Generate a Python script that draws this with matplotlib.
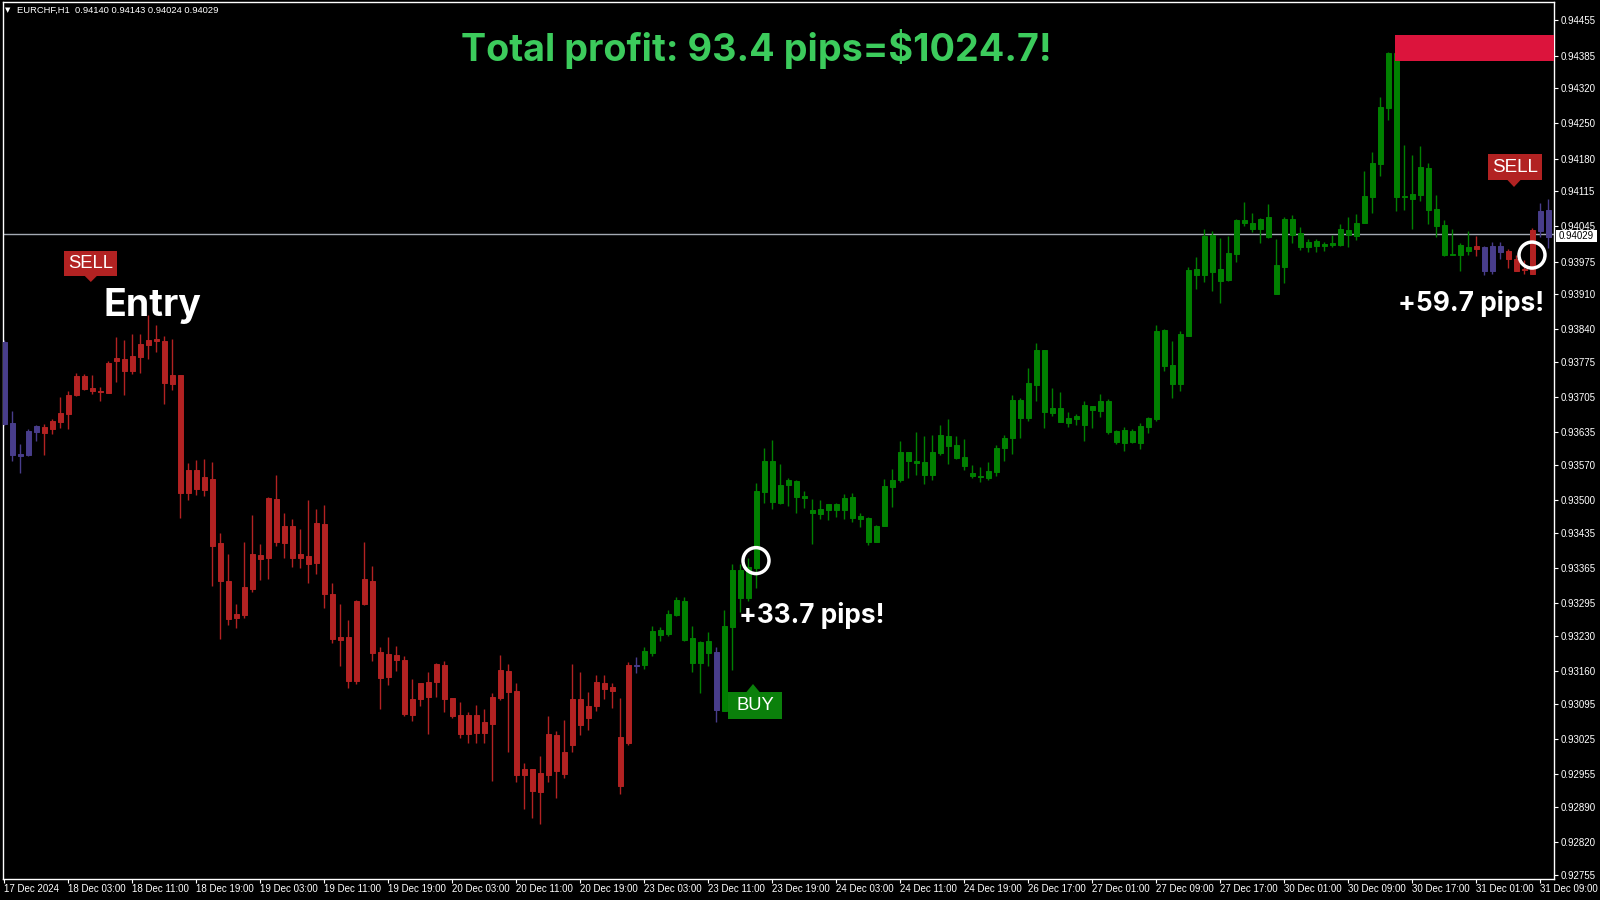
import matplotlib
matplotlib.use("Agg")
import matplotlib.pyplot as plt
from matplotlib.patches import Rectangle, Polygon

W, H, DPI = 1600, 900, 100

# ---------------- data (EURCHF H1 candles) ----------------
high = [
    0.93819, 0.93678, 0.93612, 0.93642, 0.93650, 0.93652, 0.93662, 0.93706, 0.93718, 0.93753,
    0.93751, 0.93749, 0.93726, 0.93777, 0.93825, 0.93819, 0.93831, 0.93831, 0.93869, 0.93849,
    0.93827, 0.93821, 0.93749, 0.93574, 0.93580, 0.93582, 0.93576, 0.93435, 0.93393, 0.93294,
    0.93417, 0.93471, 0.93413, 0.93507, 0.93550, 0.93475, 0.93463, 0.93443, 0.93501, 0.93483,
    0.93491, 0.93335, 0.93294, 0.93262, 0.93302, 0.93417, 0.93369, 0.93208, 0.93228, 0.93210,
    0.93190, 0.93144, 0.93136, 0.93158, 0.93176, 0.93180, 0.93107, 0.93099, 0.93079, 0.93093,
    0.93085, 0.93117, 0.93192, 0.93174, 0.93136, 0.92977, 0.92965, 0.92991, 0.93071, 0.93041,
    0.93063, 0.93174, 0.93158, 0.93119, 0.93152, 0.93152, 0.93136, 0.93107, 0.93178, 0.93188,
    0.93208, 0.93250, 0.93248, 0.93282, 0.93308, 0.93308, 0.93250, 0.93220, 0.93238, 0.93208,
    0.93282, 0.93373, 0.93373, 0.93385, 0.93534, 0.93604, 0.93620, 0.93572, 0.93544, 0.93540,
    0.93518, 0.93503, 0.93501, 0.93493, 0.93495, 0.93513, 0.93515, 0.93475, 0.93467, 0.93451,
    0.93542, 0.93562, 0.93618, 0.93596, 0.93636, 0.93628, 0.93630, 0.93650, 0.93662, 0.93628,
    0.93622, 0.93570, 0.93566, 0.93576, 0.93610, 0.93630, 0.93710, 0.93704, 0.93763, 0.93813,
    0.93799, 0.93724, 0.93716, 0.93676, 0.93672, 0.93698, 0.93688, 0.93712, 0.93702, 0.93640,
    0.93646, 0.93642, 0.93654, 0.93666, 0.93849, 0.93841, 0.93817, 0.93837, 0.93964, 0.93984,
    0.94040, 0.94036, 0.94022, 0.94026, 0.94060, 0.94094, 0.94072, 0.94062, 0.94090, 0.94020,
    0.94064, 0.94068, 0.94044, 0.94020, 0.94020, 0.94014, 0.94028, 0.94050, 0.94064, 0.94070,
    0.94155, 0.94193, 0.94303, 0.94392, 0.94392, 0.94207, 0.94187, 0.94205, 0.94171, 0.94108,
    0.94058, 0.94040, 0.94012, 0.94036, 0.94026, 0.94006, 0.94014, 0.94014, 0.94000, 0.93988,
    0.93978, 0.94042, 0.94092, 0.94100,
]
body_top = [
    0.93816, 0.93654, 0.93592, 0.93638, 0.93648, 0.93646, 0.93658, 0.93674, 0.93710, 0.93747,
    0.93747, 0.93724, 0.93718, 0.93773, 0.93783, 0.93781, 0.93787, 0.93811, 0.93819, 0.93821,
    0.93817, 0.93749, 0.93749, 0.93560, 0.93560, 0.93546, 0.93542, 0.93415, 0.93339, 0.93274,
    0.93328, 0.93393, 0.93391, 0.93505, 0.93503, 0.93449, 0.93449, 0.93393, 0.93389, 0.93455,
    0.93453, 0.93314, 0.93228, 0.93228, 0.93300, 0.93343, 0.93339, 0.93198, 0.93194, 0.93192,
    0.93182, 0.93105, 0.93136, 0.93138, 0.93174, 0.93172, 0.93107, 0.93073, 0.93073, 0.93073,
    0.93059, 0.93109, 0.93162, 0.93160, 0.93121, 0.92965, 0.92965, 0.92957, 0.93035, 0.93033,
    0.92999, 0.93105, 0.93105, 0.93091, 0.93138, 0.93136, 0.93128, 0.93029, 0.93172, 0.93172,
    0.93200, 0.93240, 0.93242, 0.93274, 0.93302, 0.93300, 0.93226, 0.93218, 0.93220, 0.93198,
    0.93250, 0.93361, 0.93361, 0.93367, 0.93518, 0.93578, 0.93578, 0.93530, 0.93540, 0.93538,
    0.93509, 0.93481, 0.93483, 0.93493, 0.93493, 0.93505, 0.93507, 0.93469, 0.93465, 0.93449,
    0.93528, 0.93540, 0.93596, 0.93596, 0.93578, 0.93576, 0.93596, 0.93630, 0.93628, 0.93610,
    0.93586, 0.93554, 0.93548, 0.93558, 0.93604, 0.93624, 0.93700, 0.93700, 0.93733, 0.93799,
    0.93799, 0.93684, 0.93684, 0.93664, 0.93668, 0.93690, 0.93688, 0.93698, 0.93698, 0.93638,
    0.93640, 0.93638, 0.93648, 0.93664, 0.93837, 0.93839, 0.93769, 0.93831, 0.93958, 0.93960,
    0.94026, 0.94028, 0.93960, 0.93992, 0.94058, 0.94058, 0.94052, 0.94060, 0.94064, 0.93968,
    0.94060, 0.94060, 0.94032, 0.94014, 0.94016, 0.94010, 0.94012, 0.94040, 0.94038, 0.94052,
    0.94106, 0.94171, 0.94283, 0.94390, 0.94390, 0.94106, 0.94110, 0.94163, 0.94161, 0.94080,
    0.94048, 0.93990, 0.94008, 0.94004, 0.94006, 0.94004, 0.94006, 0.94006, 0.93996, 0.93980,
    0.93960, 0.94038, 0.94076, 0.94078,
]
body_bot = [
    0.93652, 0.93590, 0.93589, 0.93590, 0.93636, 0.93634, 0.93642, 0.93656, 0.93672, 0.93710,
    0.93722, 0.93718, 0.93716, 0.93714, 0.93777, 0.93757, 0.93757, 0.93785, 0.93809, 0.93817,
    0.93733, 0.93731, 0.93515, 0.93515, 0.93523, 0.93521, 0.93409, 0.93339, 0.93264, 0.93266,
    0.93272, 0.93324, 0.93383, 0.93385, 0.93417, 0.93415, 0.93385, 0.93385, 0.93373, 0.93375,
    0.93314, 0.93224, 0.93222, 0.93140, 0.93140, 0.93294, 0.93196, 0.93146, 0.93148, 0.93182,
    0.93075, 0.93073, 0.93105, 0.93109, 0.93138, 0.93105, 0.93071, 0.93035, 0.93035, 0.93037,
    0.93037, 0.93055, 0.93107, 0.93119, 0.92953, 0.92953, 0.92921, 0.92920, 0.92953, 0.92961,
    0.92955, 0.93013, 0.93053, 0.93067, 0.93091, 0.93125, 0.93121, 0.92931, 0.93017, 0.93170,
    0.93172, 0.93196, 0.93232, 0.93234, 0.93272, 0.93222, 0.93176, 0.93176, 0.93196, 0.93083,
    0.93081, 0.93248, 0.93306, 0.93306, 0.93365, 0.93517, 0.93497, 0.93495, 0.93530, 0.93507,
    0.93505, 0.93475, 0.93473, 0.93481, 0.93481, 0.93481, 0.93465, 0.93463, 0.93417, 0.93417,
    0.93449, 0.93526, 0.93540, 0.93578, 0.93574, 0.93550, 0.93550, 0.93594, 0.93608, 0.93584,
    0.93568, 0.93548, 0.93546, 0.93544, 0.93556, 0.93604, 0.93624, 0.93664, 0.93664, 0.93729,
    0.93676, 0.93674, 0.93656, 0.93654, 0.93662, 0.93650, 0.93680, 0.93678, 0.93636, 0.93616,
    0.93614, 0.93616, 0.93614, 0.93646, 0.93662, 0.93767, 0.93731, 0.93731, 0.93827, 0.93948,
    0.93948, 0.93954, 0.93936, 0.93938, 0.93990, 0.94052, 0.94040, 0.94040, 0.94024, 0.93910,
    0.93964, 0.94028, 0.94004, 0.94004, 0.94006, 0.94006, 0.94008, 0.94008, 0.94028, 0.94026,
    0.94052, 0.94104, 0.94169, 0.94281, 0.94104, 0.94104, 0.94100, 0.94108, 0.94078, 0.94046,
    0.93988, 0.93988, 0.93988, 0.93996, 0.94000, 0.93956, 0.93956, 0.93994, 0.93980, 0.93956,
    0.93958, 0.93950, 0.94036, 0.94024,
]
low = [
    0.93650, 0.93579, 0.93555, 0.93588, 0.93619, 0.93590, 0.93632, 0.93644, 0.93642, 0.93708,
    0.93720, 0.93712, 0.93698, 0.93714, 0.93735, 0.93710, 0.93751, 0.93753, 0.93781, 0.93795,
    0.93692, 0.93720, 0.93465, 0.93501, 0.93511, 0.93509, 0.93330, 0.93224, 0.93252, 0.93246,
    0.93266, 0.93318, 0.93341, 0.93343, 0.93409, 0.93385, 0.93367, 0.93365, 0.93335, 0.93353,
    0.93286, 0.93216, 0.93170, 0.93126, 0.93134, 0.93292, 0.93180, 0.93085, 0.93132, 0.93160,
    0.93071, 0.93061, 0.93091, 0.93035, 0.93109, 0.93079, 0.93067, 0.93027, 0.93017, 0.93017,
    0.93017, 0.92941, 0.93103, 0.92999, 0.92939, 0.92886, 0.92868, 0.92856, 0.92939, 0.92908,
    0.92947, 0.92999, 0.93033, 0.93043, 0.93081, 0.93105, 0.93087, 0.92915, 0.93013, 0.93156,
    0.93164, 0.93190, 0.93220, 0.93230, 0.93270, 0.93220, 0.93158, 0.93117, 0.93170, 0.93059,
    0.93081, 0.93162, 0.93278, 0.93300, 0.93325, 0.93495, 0.93483, 0.93493, 0.93489, 0.93475,
    0.93485, 0.93413, 0.93463, 0.93461, 0.93467, 0.93463, 0.93457, 0.93447, 0.93411, 0.93417,
    0.93449, 0.93487, 0.93536, 0.93544, 0.93550, 0.93532, 0.93540, 0.93590, 0.93572, 0.93582,
    0.93560, 0.93544, 0.93536, 0.93540, 0.93548, 0.93578, 0.93592, 0.93624, 0.93658, 0.93698,
    0.93644, 0.93668, 0.93656, 0.93646, 0.93650, 0.93618, 0.93644, 0.93666, 0.93632, 0.93612,
    0.93598, 0.93614, 0.93602, 0.93634, 0.93658, 0.93757, 0.93704, 0.93718, 0.93827, 0.93920,
    0.93934, 0.93916, 0.93893, 0.93936, 0.93974, 0.94046, 0.94034, 0.94012, 0.94022, 0.93910,
    0.93932, 0.94012, 0.93998, 0.93994, 0.93994, 0.93996, 0.94004, 0.94006, 0.94004, 0.94018,
    0.94052, 0.94072, 0.94145, 0.94257, 0.94076, 0.94078, 0.94040, 0.94096, 0.94050, 0.94024,
    0.93986, 0.93988, 0.93956, 0.93988, 0.93986, 0.93948, 0.93950, 0.93980, 0.93962, 0.93956,
    0.93950, 0.93950, 0.94024, 0.94002,
]
# indicator state per candle: R = sell trend, G = buy trend, B = neutral
state = ("BBBBBRRRRR" "RRRRRRRRRR" "RRRRRRRRRR" "RRRRRRRRRR" "RRRRRRRRRR"
         "RRRRRRRRRR" "RRRRRRRRRR" "RRRRRRRRRB" "GGGGGGGGGB" "GGGGGGGGGG"
         "GGGGGGGGGG" "GGGGGGGGGG" "GGGGGGGGGG" "GGGGGGGGGG" "GGGGGGGGGG"
         "GGGGGGGGGG" "GGGGGGGGGG" "GGGGGGGGGG" "GGGGRBBBRR" "RRBB")

x_labels = ["17 Dec 2024", "18 Dec 03:00", "18 Dec 11:00", "18 Dec 19:00", "19 Dec 03:00",
            "19 Dec 11:00", "19 Dec 19:00", "20 Dec 03:00", "20 Dec 11:00", "20 Dec 19:00",
            "23 Dec 03:00", "23 Dec 11:00", "23 Dec 19:00", "24 Dec 03:00", "24 Dec 11:00",
            "24 Dec 19:00", "26 Dec 17:00", "27 Dec 01:00", "27 Dec 09:00", "27 Dec 17:00",
            "30 Dec 01:00", "30 Dec 09:00", "30 Dec 17:00", "31 Dec 01:00", "31 Dec 09:00"]
x_label_step = 8   # one label every 8 hourly candles
y_ticks = [0.94455, 0.94385, 0.94320, 0.94250, 0.94180, 0.94115, 0.94045, 0.93975, 0.93910,
           0.93840, 0.93775, 0.93705, 0.93635, 0.93570, 0.93500, 0.93435, 0.93365, 0.93295,
           0.93230, 0.93160, 0.93095, 0.93025, 0.92955, 0.92890, 0.92820, 0.92755]
current_price = 0.94029
header_text = "EURCHF,H1  0.94140 0.94143 0.94024 0.94029"
title_text = "Total profit: 93.4 pips=$1024.7!"
sl_zone = (174, 0.94374, 0.94426)          # start candle, low, high
exit_points = [(94, 0.93380), (191, 0.93988)]
profit_labels = ["+33.7 pips!", "+59.7 pips!"]

COL = {"R": "#B22222", "G": "#008000", "B": "#483D8B"}

# ---------------- figure ----------------
plt.rcParams["font.family"] = ["DejaVu Sans"]
fig = plt.figure(figsize=(W / DPI, H / DPI), dpi=DPI, facecolor="black")
L, R, T, B = 3, 1554, 2, 879
ax = fig.add_axes([L / W, (H - B) / H, (R - L) / W, (B - T) / H])
ax.set_facecolor("black")

n = len(high)
idx = list(range(n))
colors = [COL[s] for s in state]
ax.set_xlim(-0.125, -0.125 + (R - L) / 8.0)
ax.set_ylim(0.927464, 0.944916)

# current price line (behind candles)
ax.axhline(current_price, color="#A3A9B3", lw=1.0, zorder=1)

ax.vlines(idx, low, high, colors=colors, linewidth=1.0, zorder=2)
heights = [t - b for t, b in zip(body_top, body_bot)]
ax.bar(idx, heights, bottom=body_bot, width=0.625, color=colors, edgecolor=colors,
       linewidth=0.7, zorder=3)

# stop zone
ax.add_patch(Rectangle((sl_zone[0] - 0.125, sl_zone[1]), 40, sl_zone[2] - sl_zone[1],
                       facecolor="#DC143C", edgecolor="none", zorder=4))

# exit circles
ax.scatter([p[0] for p in exit_points], [p[1] for p in exit_points], s=350,
           facecolors="none", edgecolors="white", linewidths=2.5, zorder=6)

for s in ax.spines.values():
    s.set_color("white")
    s.set_linewidth(1.0)

ax.yaxis.tick_right()
ax.set_yticks(y_ticks)
ax.set_yticklabels([f"{v:.5f}" for v in y_ticks])
ax.set_xticks(idx[::x_label_step])
ax.set_xticklabels(x_labels, ha="left")
ax.tick_params(axis="both", colors="white", labelcolor="white", labelsize=7, width=0.8)
ax.tick_params(axis="y", length=3, pad=1.5)
ax.tick_params(axis="x", length=3, pad=0.5)
for lab in ax.get_yticklabels() + ax.get_xticklabels():
    lab.set_fontfamily("Liberation Sans")

def fx(x):
    return x / W

def fy(y):
    return 1 - y / H

renderer = fig.canvas.get_renderer()

def fit(t, target_w):
    bb = t.get_window_extent(renderer=renderer)
    t.set_fontsize(t.get_fontsize() * target_w / bb.width)

# price label on the axis
fig.patches.append(Rectangle((fx(1556), fy(241.5)), 41 / W, 11 / H, transform=fig.transFigure,
                             facecolor="white", edgecolor="none", zorder=10))
fig.text(fx(1576.5), fy(236), f"{current_price:.5f}", color="black", ha="center", va="center",
         fontsize=7, family="Liberation Sans", zorder=11)

# header
fig.text(fx(5), fy(10.5), "\u25BC", color="white", fontsize=5, va="center", family="DejaVu Sans")
ht = fig.text(fx(17), fy(10.5), header_text, color="white", fontsize=6.5, va="center",
              family="Liberation Sans")
fit(ht, 201)

# title
tt = fig.text(fx(756), fy(61), title_text, color="#3CCB5C", ha="center", va="baseline",
              fontsize=26, fontweight="bold", family="Inter")
fit(tt, 590)

# text labels
et = fig.text(fx(104), fy(316), "Entry", color="white", ha="left", va="baseline",
              fontsize=26, fontweight="bold", family="Inter")
fit(et, 98)
p1 = fig.text(fx(739), fy(623), profit_labels[0], color="white", ha="left", va="baseline",
              fontsize=18, fontweight="bold", family="Inter")
fit(p1, 145)
p2 = fig.text(fx(1398), fy(311), profit_labels[1], color="white", ha="left", va="baseline",
              fontsize=18, fontweight="bold", family="Inter")
fit(p2, 146)

def signal_box(x0, x1, y0, y1, tip, base_y, text, color, text_w):
    fig.patches.append(Rectangle((fx(x0), fy(y1)), (x1 - x0) / W, (y1 - y0) / H,
                                 transform=fig.transFigure, facecolor=color, edgecolor="none",
                                 zorder=10))
    tx, ty = tip
    fig.patches.append(Polygon([(fx(tx - 7), fy(base_y)), (fx(tx + 7), fy(base_y)), (fx(tx), fy(ty))],
                               closed=True, transform=fig.transFigure, facecolor=color,
                               edgecolor="none", zorder=10))
    t = fig.text(fx((x0 + x1) / 2), fy((y0 + y1) / 2 + 0.5), text, color="white", ha="center",
                 va="center", fontsize=12, family="Liberation Sans", zorder=11)
    fit(t, text_w)

signal_box(64, 117, 251, 275.5, (90.8, 282), 275, "SELL", "#B22222", 45)
signal_box(1488, 1542, 154, 180, (1514, 187), 179.5, "SELL", "#B22222", 46)
signal_box(728, 782, 692, 719, (753, 684), 692.5, "BUY", "#0B800B", 38)

fig.savefig("out.png", dpi=DPI, facecolor="black")
